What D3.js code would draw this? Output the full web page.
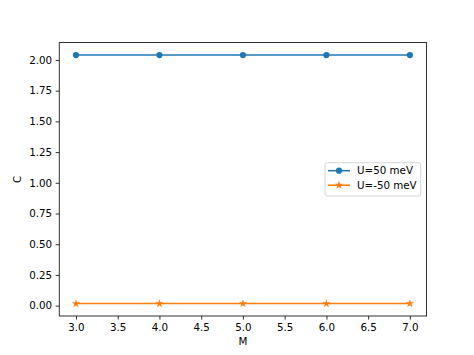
<!DOCTYPE html>
<html><head><meta charset="utf-8">
<script src="https://cdn.jsdelivr.net/npm/d3@7"></script>
<style>body{margin:0;background:#fff}svg{display:block}text{font-family:"DejaVu Sans",sans-serif;fill:#000}</style>
</head><body><svg id="c" width="474" height="355"></svg>
<script>
const mValues = [3, 4, 5, 6, 7];
const cPos = [2.04, 2.04, 2.04, 2.04, 2.04];
const cNeg = [0.017, 0.017, 0.017, 0.017, 0.017];
const seriesNames = ["U=50 meV", "U=-50 meV"];
const xTicks = [3.0, 3.5, 4.0, 4.5, 5.0, 5.5, 6.0, 6.5, 7.0];
const yTicks = [0.00, 0.25, 0.50, 0.75, 1.00, 1.25, 1.50, 1.75, 2.00];
const colors = ["#1f77b4", "#ff7f0e"];

const W = 474, H = 355;
const L = 59.25, R = 426.6, T = 42.6, B = 316;
const svg = d3.select("#c");
const fs = 10.3;

const x = d3.scaleLinear().domain([2.8, 7.2]).range([L, R]);
const lo = Math.min(...cNeg), hi = Math.max(...cPos), pad = (hi - lo) * 0.05;
const y = d3.scaleLinear().domain([lo - pad, hi + pad]).range([B, T]);

const xa = svg.append("g").attr("transform", `translate(0,${B})`)
  .call(d3.axisBottom(x).tickValues(xTicks).tickFormat(d3.format(".1f")).tickSize(3.6).tickPadding(3.6));
const ya = svg.append("g").attr("transform", `translate(${L},0)`)
  .call(d3.axisLeft(y).tickValues(yTicks).tickFormat(d3.format(".2f")).tickSize(3.6).tickPadding(3.6));
[xa, ya].forEach(a => {
  a.select(".domain").remove();
  a.selectAll("line").attr("stroke", "#000").attr("stroke-width", 0.8);
  a.selectAll("text").style("font-size", fs + "px").style("font-family", "DejaVu Sans");
});

svg.append("rect").attr("x", L).attr("y", T).attr("width", R - L).attr("height", B - T)
  .attr("fill", "none").attr("stroke", "#000").attr("stroke-width", 0.8);

const line = d3.line().x((d, i) => x(mValues[i])).y(d => y(d));
const star = d3.symbol().type(d3.symbolStar).size(22);

function drawSeries(vals, col, marker) {
  svg.append("path").datum(vals).attr("d", line).attr("fill", "none")
    .attr("stroke", col).attr("stroke-width", 1.55);
  vals.forEach((v, i) => {
    if (marker === "o") svg.append("circle").attr("cx", x(mValues[i])).attr("cy", y(v)).attr("r", 3.1).attr("fill", col);
    else svg.append("path").attr("d", star()).attr("transform", `translate(${x(mValues[i])},${y(v)})`).attr("fill", col);
  });
}
drawSeries(cPos, colors[0], "o");
drawSeries(cNeg, colors[1], "*");

svg.append("text").attr("x", (L + R) / 2).attr("y", 345).attr("text-anchor", "middle").style("font-size", fs + "px").text("M");
svg.append("text").attr("transform", `translate(21,${(T + B) / 2}) rotate(-90)`).attr("text-anchor", "middle").style("font-size", fs + "px").text("C");

// legend
const lg = svg.append("g");
lg.append("rect").attr("x", 325).attr("y", 162.7).attr("width", 95.7).attr("height", 33.3)
  .attr("rx", 2).attr("fill", "#fff").attr("fill-opacity", 0.8).attr("stroke", "#ccc").attr("stroke-width", 0.8);
const rows = [170.7, 185.2];
rows.forEach((ry, i) => {
  lg.append("line").attr("x1", 328).attr("x2", 350).attr("y1", ry).attr("y2", ry)
    .attr("stroke", colors[i]).attr("stroke-width", 1.55);
  if (i === 0) lg.append("circle").attr("cx", 339).attr("cy", ry).attr("r", 3.1).attr("fill", colors[i]);
  else lg.append("path").attr("d", star()).attr("transform", `translate(339,${ry})`).attr("fill", colors[i]);
  lg.append("text").attr("x", 357).attr("y", ry).attr("dy", "0.36em").style("font-size", fs + "px").text(seriesNames[i]);
});
</script></body></html>
